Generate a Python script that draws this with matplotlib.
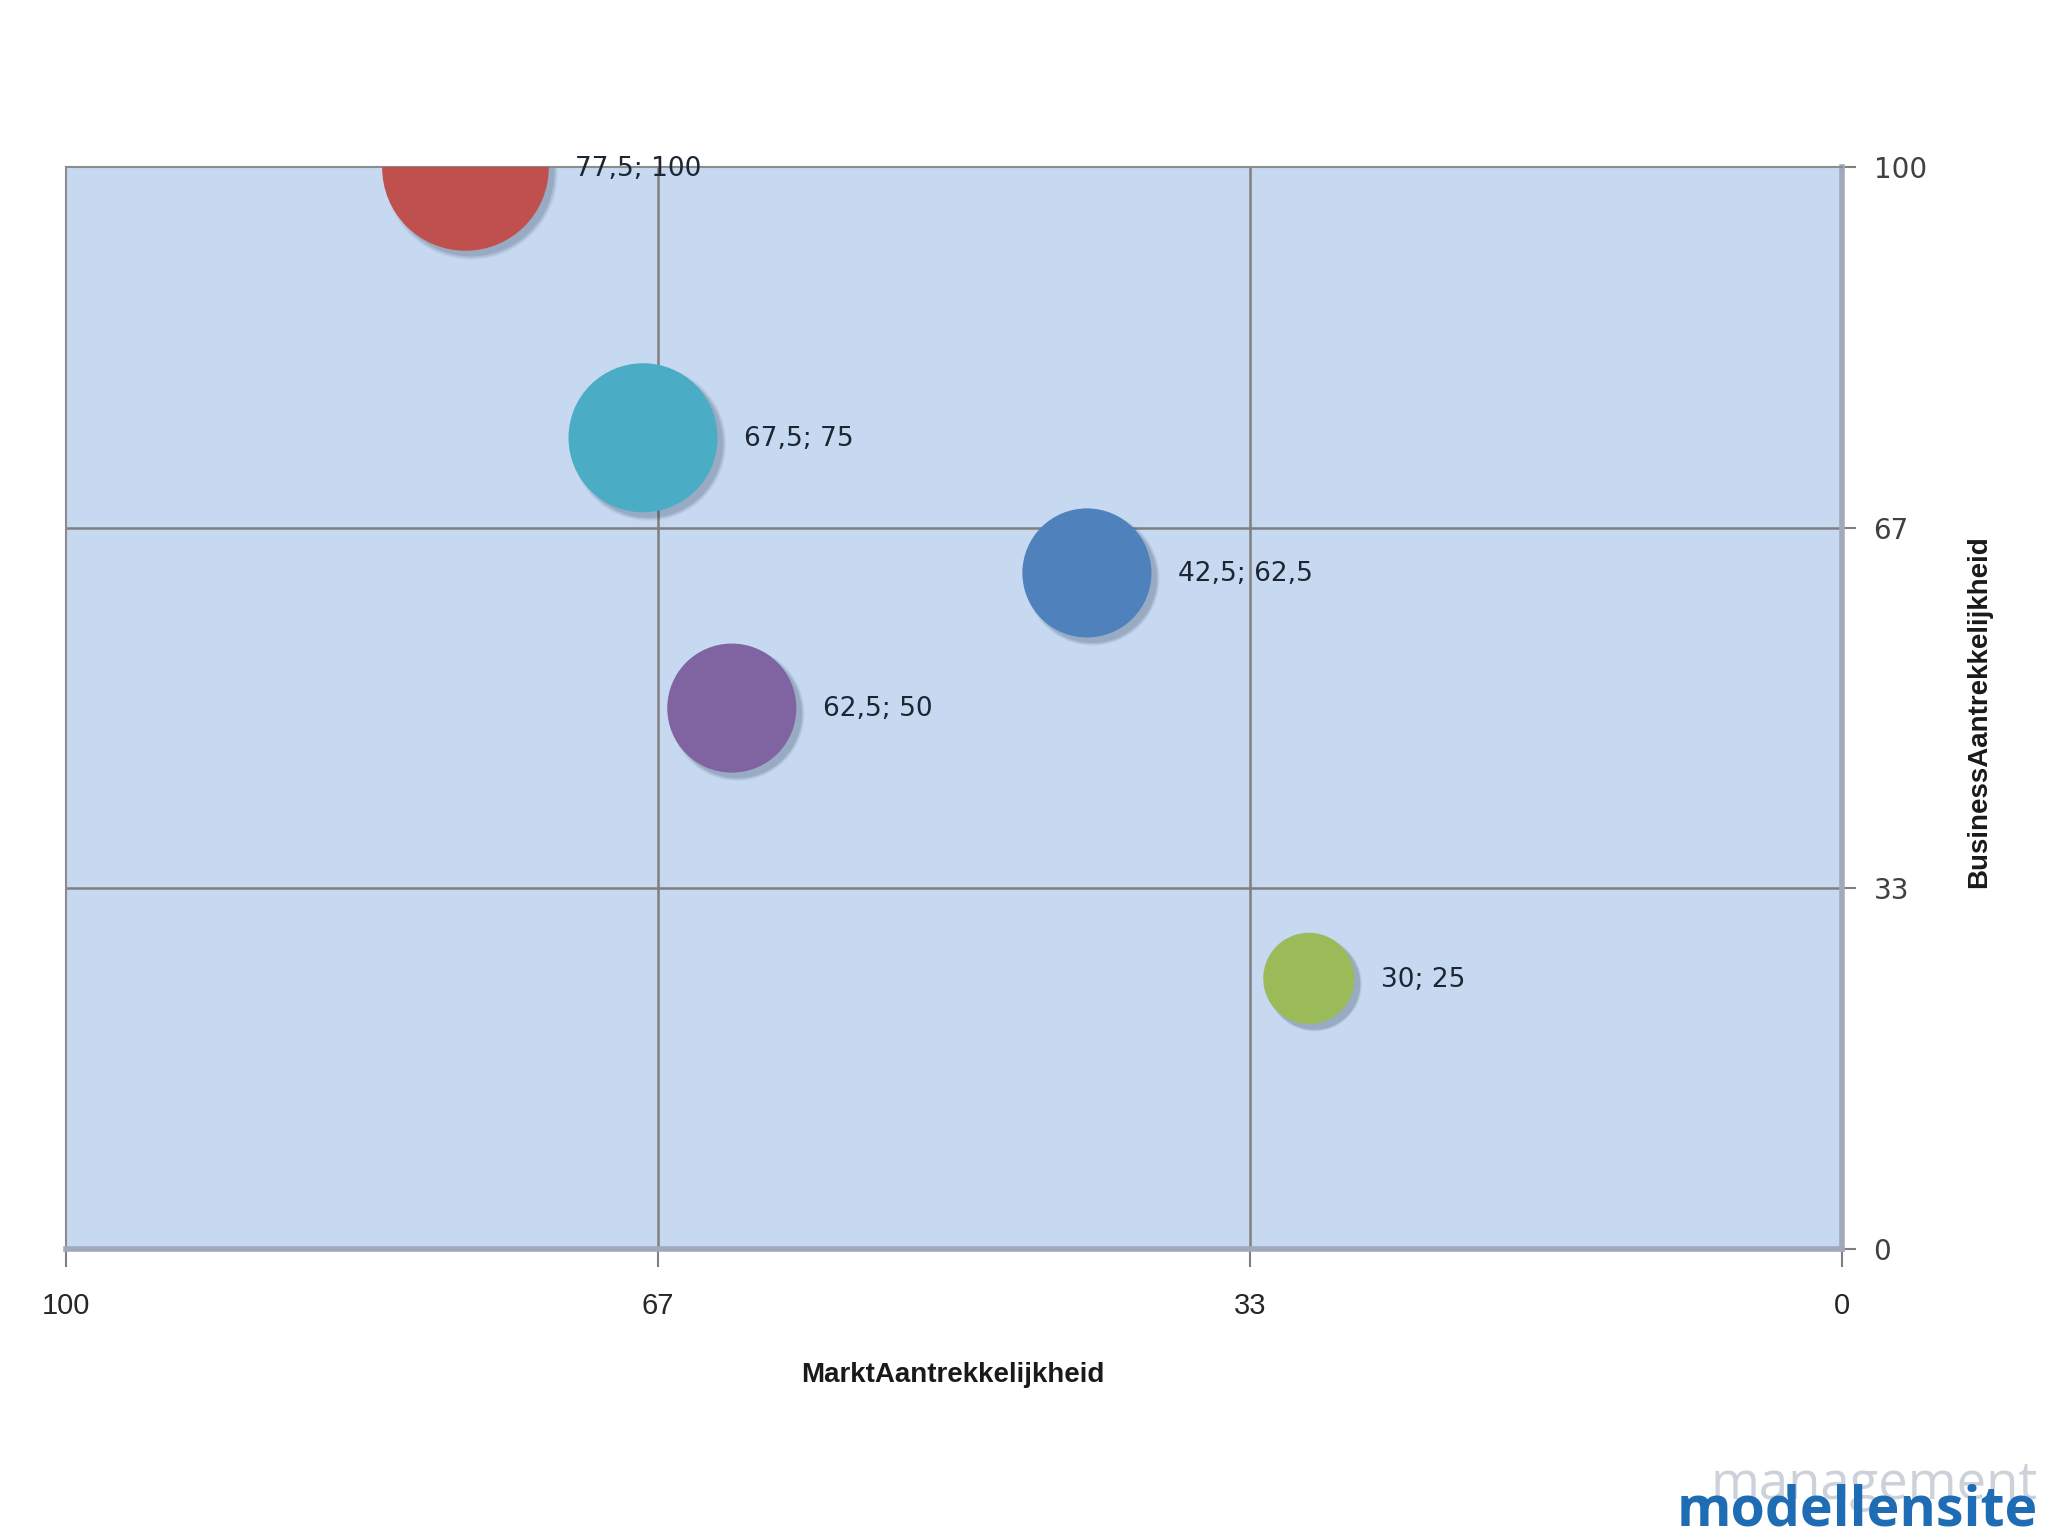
import matplotlib
matplotlib.use("Agg")
import matplotlib.pyplot as plt
import matplotlib.transforms as mtransforms
import numpy as np

# bubble data (Excel-like bubble chart)
markt = [77.5, 67.5, 42.5, 62.5, 30]
business = [100, 75, 62.5, 50, 25]
sizes = [100, 80, 60, 60, 30]
colors = ['#C0504D', '#4BACC6', '#4F81BD', '#8064A2', '#9BBB59']

tick_pos = [100, 200 / 3, 100 / 3, 0]
tick_labels = ['100', '67', '33', '0']

narrow = ['Liberation Sans Narrow', 'Liberation Sans', 'DejaVu Sans']


def nl(v):
    # dutch decimal comma
    return f"{v:g}".replace('.', ',')


fig = plt.figure(figsize=(20.48, 15.36), dpi=100)
ax = fig.add_axes([0.0322, 0.187, 0.867, 0.704])
ax.set_facecolor('#C6D9F1')

ax.set_xlim(100, 0)
ax.set_ylim(0, 100)

# gridlines at the thirds
for v in tick_pos[1:3]:
    ax.axvline(v, color='#7F7F7F', lw=1.8, zorder=1)
    ax.axhline(v, color='#7F7F7F', lw=1.8, zorder=1)

s = np.array(sizes) * 144.0

# soft drop shadow
shadow_tr = mtransforms.offset_copy(ax.transData, fig=fig, x=4, y=-4, units='points')
for k, a in zip([1.08, 1.04, 1.0], [0.07, 0.09, 0.12]):
    ax.scatter(markt, business, s=s * k, color='#1A2A45', alpha=a,
               linewidths=0, transform=shadow_tr, zorder=2)

ax.scatter(markt, business, s=s, c=colors, linewidths=0, zorder=3)

for x, y, sz in zip(markt, business, s):
    lab = nl(x) + "; " + nl(y)
    r = np.sqrt(sz) / 2
    ax.annotate(lab, (x, y), xytext=(r + 19, -1), textcoords='offset points',
                ha='left', va='center', fontsize=19, color='#1C2633',
                annotation_clip=False, zorder=5)

ax.set_xticks(tick_pos)
ax.set_xticklabels(tick_labels, family=narrow, fontsize=21, color='#262626')
ax.set_yticks(tick_pos)
ax.set_yticklabels(tick_labels, fontsize=20, color='#404040')
ax.yaxis.tick_right()
ax.tick_params(axis='x', length=13, width=1.5, color='#7F7F7F', pad=18)
ax.tick_params(axis='y', length=10, width=1.5, color='#7F7F7F', pad=13)

for side in ['top', 'left']:
    ax.spines[side].set_color('#8C8C8C')
    ax.spines[side].set_linewidth(1.5)
for side in ['bottom', 'right']:
    ax.spines[side].set_color('#A0A8BA')
    ax.spines[side].set_linewidth(4)

fig.text(953 / 2048, 1 - 1375 / 1536, 'MarktAantrekkelijkheid', ha='center',
         va='center', family=narrow, fontweight='bold', fontsize=20, color='#1A1A1A')
fig.text(1979 / 2048, 1 - 712 / 1536, 'BusinessAantrekkelijkheid', ha='center',
         va='center', rotation=90, family=narrow, fontweight='bold', fontsize=20,
         color='#1A1A1A')

# watermark
fig.text(0.995, 0.024, 'management', ha='right', va='baseline', family='Open Sans',
         fontsize=38, color='#CDD2DA', zorder=1)
fig.text(0.995, 0.007, 'modellensite', ha='right', va='baseline', family='Open Sans',
         fontweight='bold', fontsize=40, color='#1E6DB4', zorder=2)

fig.savefig('out.png', dpi=100)
